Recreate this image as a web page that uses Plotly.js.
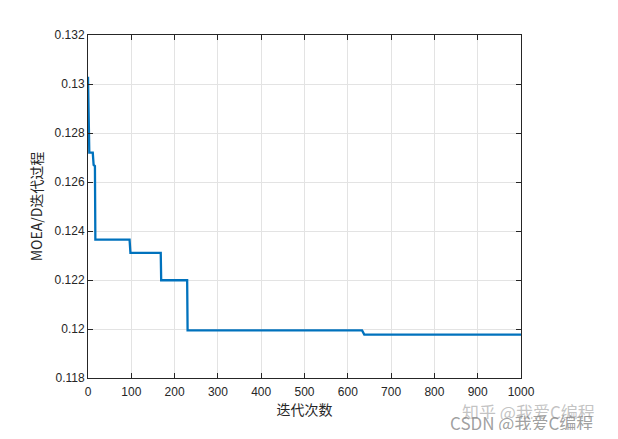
<!DOCTYPE html>
<html>
<head>
<meta charset="utf-8">
<script src="https://cdn.plot.ly/plotly-3.0.1.min.js"></script>
<style>html,body{margin:0;padding:0;background:#fff;}#chart{width:618px;height:439px;}</style>
</head>
<body>
<div id="chart"></div>
<script>
const iterations = [0, 1, 2, 3, 11, 13, 16, 17, 96, 98, 168, 169, 229, 230, 633, 638, 1000];
const values = [0.1303, 0.1285, 0.1274, 0.1272, 0.1272, 0.1267, 0.12665, 0.12365, 0.12365, 0.12311, 0.12311, 0.12199, 0.12199, 0.11994, 0.11994, 0.11977, 0.11977];
const xTickVals = [0, 100, 200, 300, 400, 500, 600, 700, 800, 900, 1000];
const yTickVals = [0.118, 0.12, 0.122, 0.124, 0.126, 0.128, 0.13, 0.132];
const yTickText = ['0.118', '0.12', '0.122', '0.124', '0.126', '0.128', '0.13', '0.132'];
const xTitle = '迭代次数';
const yTitle = 'MOEA/D迭代过程';
const watermarks = ['知乎 @我爱C编程', 'CSDN @我爱C编程'];

const trace = {
  x: iterations, y: values, type: 'scatter', mode: 'lines',
  line: {color: '#0072BD', width: 2.3, shape: 'linear'},
  hoverinfo: 'skip'
};
const axisCommon = {
  showline: true, linecolor: '#262626', linewidth: 1, mirror: 'ticks',
  ticks: 'inside', ticklen: 5, tickcolor: '#262626', tickwidth: 1,
  showgrid: true, gridcolor: '#e3e3e3', gridwidth: 1, zeroline: false,
  tickfont: {family: 'Liberation Sans, Arial, sans-serif', size: 12, color: '#262626'}
};
const layout = {
  width: 618, height: 439,
  margin: {l: 88, r: 97, t: 35, b: 61},
  paper_bgcolor: '#fff', plot_bgcolor: '#fff',
  showlegend: false,
  xaxis: Object.assign({}, axisCommon, {
    range: [0, 1000], tickvals: xTickVals, autorange: false, ticklabelstandoff: 3,
    title: {text: xTitle, font: {family: 'Noto Sans CJK SC, sans-serif', size: 14, color: '#262626'}, standoff: 4}
  }),
  yaxis: Object.assign({}, axisCommon, {
    range: [0.118, 0.132], tickvals: yTickVals, ticktext: yTickText, autorange: false,
    title: {text: yTitle, font: {family: 'Noto Sans CJK SC, Liberation Sans, sans-serif', size: 14, color: '#262626'}, standoff: 8}
  }),
  annotations: [
    {text: watermarks[0], xref: 'paper', yref: 'paper', x: 1.018, y: -0.095, xanchor: 'center', yanchor: 'middle', showarrow: false,
     height: 16, font: {family: 'Noto Sans CJK SC, sans-serif', size: 17, color: 'rgba(175,175,175,0.75)'}},
    {text: watermarks[1], xref: 'paper', yref: 'paper', x: 1.002, y: -0.128, xanchor: 'center', yanchor: 'middle', showarrow: false,
     height: 16, font: {family: 'Noto Sans CJK SC, sans-serif', size: 17, color: 'rgba(135,135,135,0.8)'}}
  ]
};
Plotly.newPlot('chart', [trace], layout, {displayModeBar: false, staticPlot: true});
</script>
</body>
</html>
